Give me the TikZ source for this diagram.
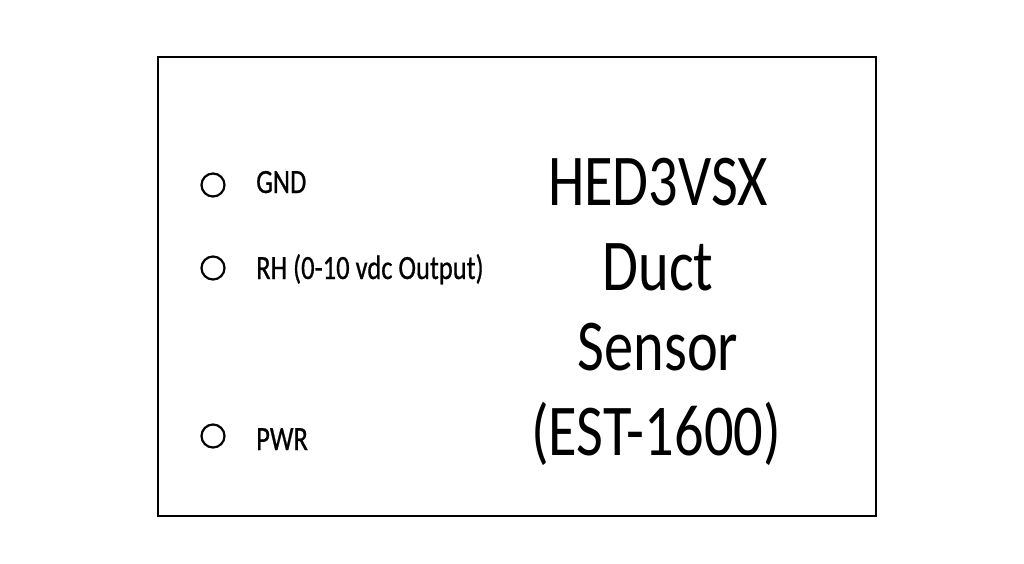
\documentclass[tikz,border=0pt]{standalone}
\usepackage{fontspec}
\newfontfamily\cond[FakeStretch=0.8]{Carlito}
\newfontfamily\condsmall[FakeStretch=0.78,FakeBold=0.6]{Carlito}
\begin{document}
\begin{tikzpicture}[x=1pt,y=-1pt,
  pin/.style={circle,draw=black,line width=2.2pt,minimum size=23pt,inner sep=0pt},
  lbl/.style={anchor=base west,inner sep=0pt,font=\condsmall\fontsize{34}{34}\selectfont},
  big/.style={anchor=base,inner sep=0pt,font=\cond\fontsize{73}{73}\selectfont}]
\useasboundingbox (0,0) rectangle (1024,563);
\fill[white] (0,0) rectangle (1024,563);
\node[draw=black,line width=2pt,minimum width=718pt,minimum height=459pt,inner sep=0pt,anchor=north west] (box) at (157,56) {};
\node[pin] (c1) at (213,185) {};
\node[pin] (c2) at (213,268) {};
\node[pin] (c3) at (213,436) {};
\node[lbl] (gnd) at (256,193) {GND};
\node[lbl] (rh) at (256,279) {RH (0-10 vdc Output)};
\node[lbl] (pwr) at (256,450) {PWR};
\node[big] (t1) at (658,205) {HED3VSX};
\node[big] (t2) at (658,290) {Duct};
\node[big] (t3) at (658,370) {Sensor};
\node[big] (t4) at (656,455) {(EST-1600)};
\end{tikzpicture}
\end{document}
